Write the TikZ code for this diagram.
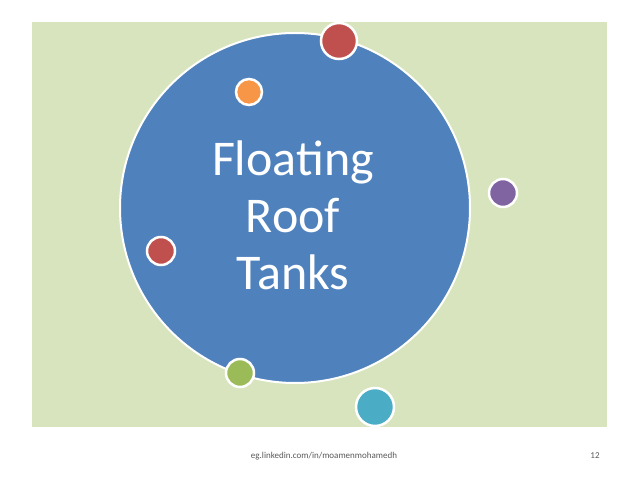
\documentclass[tikz,border=0pt]{standalone}
\usepackage{fontspec}
\setmainfont{Carlito}
\definecolor{bgg}{HTML}{D7E4BD}
\definecolor{bigb}{HTML}{4F81BD}
\definecolor{cred}{HTML}{C0504D}
\definecolor{corg}{HTML}{F79646}
\definecolor{cpur}{HTML}{8064A2}
\definecolor{cgrn}{HTML}{9BBB59}
\definecolor{ccyn}{HTML}{4BACC6}
\begin{document}
\begin{tikzpicture}[x=1pt,y=-1pt,
  dot/.style={circle,draw=white,line width=2.5pt,inner sep=0pt,minimum size=#1}]
\useasboundingbox (0,0) rectangle (638,478);
\fill[white] (0,0) rectangle (638,478);
\fill[bgg] (32,22) rectangle (607,427);
\node[dot=350pt,fill=bigb,line width=2pt] (big) at (295,208) {};
\node[text=white,align=center,font=\fontsize{50}{57}\selectfont] (t) at (293,215) {Floating\\Roof\\Tanks};
\node[dot=36pt,fill=cred] (c1) at (339,41) {};
\node[dot=26pt,fill=corg] (c2) at (249,92) {};
\node[dot=28pt,fill=cpur] (c3) at (503,193) {};
\node[dot=28pt,fill=cred] (c4) at (161,251) {};
\node[dot=28pt,fill=cgrn] (c5) at (240,373) {};
\node[dot=38pt,fill=ccyn] (c6) at (375,407) {};
\node[text=gray!70!black,font=\fontsize{9}{11}\selectfont] (f) at (324,456) {eg.linkedin.com/in/moamenmohamedh};
\node[text=gray!70!black,font=\fontsize{9}{11}\selectfont] (n) at (595,456) {12};
\end{tikzpicture}
\end{document}
